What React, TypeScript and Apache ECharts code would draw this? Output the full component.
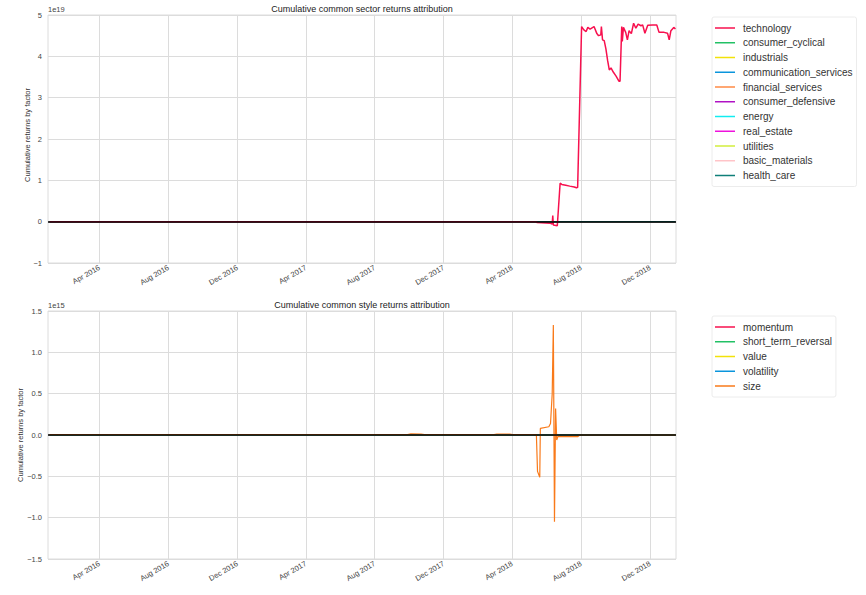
import React, { useEffect, useRef } from 'react';
import * as echarts from 'echarts';

const FONT = "'Liberation Sans', Arial, sans-serif";

// ---------- categories ----------
const sectorNames = [
  'technology', 'consumer_cyclical', 'industrials', 'communication_services', 'financial_services',
  'consumer_defensive', 'energy', 'real_estate', 'utilities', 'basic_materials', 'health_care',
];
const sectorColors = [
  '#f7104e', '#22c165', '#f2e20a', '#0a95dc', '#ff8a45',
  '#b012c4', '#12ecf0', '#ee12dc', '#d2ee3c', '#ffc4c8', '#0f7f78',
];
const styleNames = ['momentum', 'short_term_reversal', 'value', 'volatility', 'size'];
const styleColors = ['#f7104e', '#22c165', '#f2e20a', '#0a95dc', '#f97a1a'];

// ---------- tick labels ----------
const xTickDates = [
  '2016-04-01', '2016-08-01', '2016-12-01', '2017-04-01', '2017-08-01',
  '2017-12-01', '2018-04-01', '2018-08-01', '2018-12-01',
];
const monthNames = ['Jan', 'Feb', 'Mar', 'Apr', 'May', 'Jun', 'Jul', 'Aug', 'Sep', 'Oct', 'Nov', 'Dec'];
const xStart = '2016-01-01';
const xEnd = '2019-01-16';
const sectorOffsetText = '1e19';
const styleOffsetText = '1e15';
const yAxisTitle = 'Cumulative returns by factor';

// ---------- series values (sector in units of 1e19, style in units of 1e15) ----------
const technologyValues: [string, number][] = [
  ['2016-01-04', 0], ['2018-05-14', 0], ['2018-05-15', -0.02], ['2018-06-08', -0.04],
  ['2018-06-11', -0.06], ['2018-06-12', 0.15], ['2018-06-13', -0.08], ['2018-06-20', -0.1],
  ['2018-06-25', 0.93], ['2018-06-28', 0.9], ['2018-07-05', 0.88], ['2018-07-12', 0.86],
  ['2018-07-20', 0.84], ['2018-07-24', 0.82], ['2018-07-26', 0.83], ['2018-08-02', 4.72],
  ['2018-08-06', 4.64], ['2018-08-10', 4.6], ['2018-08-13', 4.7], ['2018-08-17', 4.66],
  ['2018-08-24', 4.72], ['2018-08-29', 4.55], ['2018-09-01', 4.5], ['2018-09-05', 4.52],
  ['2018-09-06', 4.72], ['2018-09-08', 4.4], ['2018-09-11', 4.38], ['2018-09-14', 4.18],
  ['2018-09-17', 3.9], ['2018-09-20', 3.67], ['2018-09-23', 3.72], ['2018-09-27', 3.62],
  ['2018-10-02', 3.52], ['2018-10-05', 3.45], ['2018-10-07', 3.4], ['2018-10-09', 3.4],
  ['2018-10-12', 4.72], ['2018-10-13', 4.36], ['2018-10-15', 4.7], ['2018-10-19', 4.58],
  ['2018-10-22', 4.4], ['2018-10-25', 4.62], ['2018-10-29', 4.55], ['2018-11-02', 4.8],
  ['2018-11-06', 4.68], ['2018-11-10', 4.78], ['2018-11-15', 4.74], ['2018-11-18', 4.76],
  ['2018-11-22', 4.56], ['2018-11-27', 4.75], ['2018-12-06', 4.76], ['2018-12-13', 4.76],
  ['2018-12-17', 4.58], ['2018-12-26', 4.58], ['2019-01-01', 4.56], ['2019-01-04', 4.4],
  ['2019-01-07', 4.62], ['2019-01-12', 4.7], ['2019-01-15', 4.66],
];
const flatSectorValues: [string, number][] = [['2016-01-04', 0], ['2019-01-15', 0]];

const sizeValues: [string, number][] = [
  ['2016-01-04', 0.006], ['2017-09-28', 0.006], ['2017-10-04', 0.014], ['2017-10-22', 0.012],
  ['2017-10-28', 0.006], ['2018-02-28', 0.006], ['2018-03-05', 0.012], ['2018-03-28', 0.012],
  ['2018-04-02', 0.006], ['2018-05-14', 0.006], ['2018-05-16', -0.44], ['2018-05-20', -0.51],
  ['2018-05-21', 0.08], ['2018-06-05', 0.1], ['2018-06-08', 0.14], ['2018-06-11', 0.5],
  ['2018-06-13', 1.33], ['2018-06-15', -1.05], ['2018-06-17', 0.32], ['2018-06-19', -0.06],
  ['2018-06-21', -0.02], ['2018-07-26', -0.02], ['2018-07-30', 0.0], ['2019-01-15', 0.0],
];
const flatStyleValues: [string, number][] = [['2016-01-04', 0], ['2019-01-15', 0]];

const toTs = (s: string) => {
  const [y, m, d] = s.split('-').map(Number);
  return new Date(y, m - 1, d).getTime();
};
const minus = (v: number, digits: number) => (v < 0 ? '\u2212' : '') + Math.abs(v).toFixed(digits);

export default function App() {
  const ref = useRef<HTMLDivElement>(null);
  useEffect(() => {
    if (!ref.current) return;
    const chart = echarts.init(ref.current, undefined, { renderer: 'svg' });
    const tickTs = xTickDates.map(toTs);

    const makeX = (gridIndex: number) => ({
      type: 'value',
      gridIndex,
      min: toTs(xStart),
      max: toTs(xEnd),
      axisLine: { show: false },
      axisTick: { show: false, customValues: tickTs },
      axisLabel: {
        customValues: tickTs,
        rotate: 30,
        fontSize: 7.5,
        color: '#444',
        fontFamily: FONT,
        margin: 4,
        showMinLabel: true,
        showMaxLabel: true,
        formatter: (v: number) => {
          const d = new Date(v);
          return monthNames[d.getMonth()] + ' ' + d.getFullYear();
        },
      },
      splitLine: { show: true, lineStyle: { color: '#dcdcdc', width: 1 } },
    });

    const makeY = (gridIndex: number, min: number, max: number, interval: number, digits: number) => ({
      type: 'value',
      gridIndex,
      min,
      max,
      interval,
      axisLine: { show: false },
      axisTick: { show: false },
      axisLabel: {
        fontSize: 7.5,
        color: '#444',
        fontFamily: FONT,
        margin: 6,
        formatter: (v: number) => minus(v, digits),
      },
      splitLine: { show: true, lineStyle: { color: '#dcdcdc', width: 1 } },
    });

    const zeroLine = {
      silent: true,
      symbol: ['none', 'none'],
      label: { show: false },
      lineStyle: { color: '#000', width: 1.5, type: 'solid' },
      data: [{ yAxis: 0 }],
    };

    const sectorSeries = sectorNames.map((name, i) => ({
      name,
      type: 'line',
      xAxisIndex: 0,
      yAxisIndex: 0,
      showSymbol: false,
      symbol: 'none',
      data: (i === 0 ? technologyValues : flatSectorValues).map(([d, v]) => [toTs(d), v]),
      lineStyle: { color: sectorColors[i], width: i === 0 ? 1.5 : 1.2 },
      itemStyle: { color: sectorColors[i] },
      z: i === 0 ? 3 : 1,
      markLine: i === 0 ? zeroLine : undefined,
    }));

    const styleSeries = styleNames.map((name, i) => ({
      name,
      type: 'line',
      xAxisIndex: 1,
      yAxisIndex: 1,
      showSymbol: false,
      symbol: 'none',
      data: (name === 'size' ? sizeValues : flatStyleValues).map(([d, v]) => [toTs(d), v]),
      lineStyle: { color: styleColors[i], width: 1.2 },
      itemStyle: { color: styleColors[i] },
      z: name === 'size' ? 3 : 1,
      markLine: name === 'size' ? zeroLine : undefined,
    }));

    const legendBase = {
      orient: 'vertical',
      left: 712,
      icon: 'rect',
      itemWidth: 20,
      itemHeight: 1.5,
      itemGap: 2.75,
      backgroundColor: '#fff',
      borderColor: '#ececec',
      borderWidth: 1,
      borderRadius: 2,
      padding: [5, 4, 5, 3],
      textStyle: { fontSize: 10, color: '#333', fontFamily: FONT, lineHeight: 12, padding: [0, 0, 0, 3] },
      selectedMode: false,
    };

    const textStyle = (text: string, size: number, fill: string, align: string) => ({
      text, fontSize: size, fill, fontFamily: FONT, align, verticalAlign: 'middle',
    });

    chart.setOption({
      animation: false,
      backgroundColor: '#fff',
      textStyle: { fontFamily: FONT },
      grid: [
        { left: 48, top: 15, width: 628, height: 248, show: true, borderColor: '#dcdcdc', borderWidth: 1, containLabel: false },
        { left: 48, top: 311, width: 628, height: 248, show: true, borderColor: '#dcdcdc', borderWidth: 1, containLabel: false },
      ],
      xAxis: [makeX(0), makeX(1)],
      yAxis: [makeY(0, -1, 5, 1, 0), makeY(1, -1.5, 1.5, 0.5, 1)],
      legend: [
        { ...legendBase, top: 17, data: sectorNames },
        { ...legendBase, top: 316, data: styleNames },
      ],
      graphic: [
        { type: 'text', x: 362, y: 9, style: textStyle('Cumulative common sector returns attribution', 9, '#222', 'center') },
        { type: 'text', x: 362, y: 305, style: textStyle('Cumulative common style returns attribution', 9, '#222', 'center') },
        { type: 'text', x: 48, y: 9, style: textStyle(sectorOffsetText, 7.5, '#444', 'left') },
        { type: 'text', x: 48, y: 305, style: textStyle(styleOffsetText, 7.5, '#444', 'left') },
        { type: 'text', x: 27, y: 135, rotation: Math.PI / 2, style: textStyle(yAxisTitle, 7.5, '#333', 'center') },
        { type: 'text', x: 20, y: 435, rotation: Math.PI / 2, style: textStyle(yAxisTitle, 7.5, '#333', 'center') },
      ],
      series: [...sectorSeries, ...styleSeries],
    });
    return () => chart.dispose();
  }, []);
  return <div ref={ref} style={{ position: 'fixed', left: 0, top: 0, width: 866, height: 595 }} />;
}
